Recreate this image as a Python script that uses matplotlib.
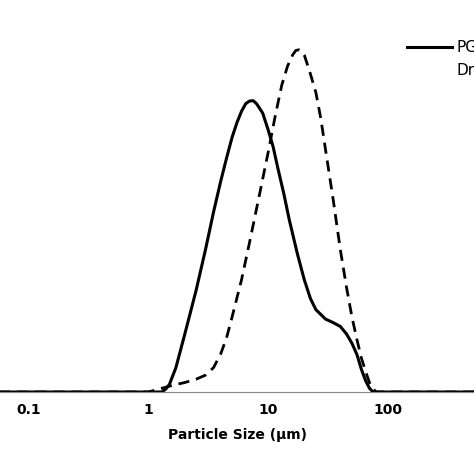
import matplotlib
matplotlib.use("Agg")
import matplotlib.pyplot as plt

size_solid = [0.05, 1.3, 1.4, 1.5, 1.7, 2, 2.5, 3, 3.5, 4, 4.5, 5, 5.5, 6, 6.5, 7, 7.5, 8, 9, 10, 11, 12, 13.5, 15, 17.5, 20, 22.5, 25, 30, 35, 40, 45, 50, 55, 60, 65, 70, 75, 600]
pgss = [0, 0, 0.08, 0.2, 0.65, 1.5, 2.7, 3.8, 4.8, 5.6, 6.25, 6.8, 7.2, 7.5, 7.7, 7.77, 7.78, 7.7, 7.45, 7.0, 6.55, 6.0, 5.3, 4.6, 3.7, 3.0, 2.5, 2.2, 1.95, 1.85, 1.75, 1.55, 1.3, 1.0, 0.6, 0.3, 0.1, 0, 0]
size_dash = [0.05, 1, 1.3, 1.6, 2, 2.5, 3, 3.5, 4, 4.5, 5, 6, 7, 8.5, 10, 11.5, 13, 14.5, 16, 17, 18, 19, 20, 22, 25, 27.5, 30, 35, 40, 45, 50, 55, 60, 65, 70, 75, 80, 600]
drug = [0, 0, 0.1, 0.18, 0.25, 0.34, 0.45, 0.65, 1.0, 1.45, 2.0, 3.0, 4.0, 5.3, 6.4, 7.4, 8.2, 8.7, 9.0, 9.12, 9.14, 9.1, 9.0, 8.6, 8.0, 7.3, 6.5, 5.1, 3.8, 2.8, 2.0, 1.4, 0.9, 0.55, 0.25, 0.08, 0, 0]

fig = plt.figure(figsize=(4.74, 4.74), dpi=100)
ax = fig.add_axes([0, 0.173, 1, 0.79])
ax.plot(size_solid, pgss, color="black", lw=2.2, solid_joinstyle="round")
ax.plot(size_dash, drug, color="black", lw=2.0, ls=(0, (4, 2.5)))
ax.set_xscale("log")
ax.set_xlim(0.058, 521)
ax.set_ylim(0, 10)
for s in ["left", "right", "top"]:
    ax.spines[s].set_visible(False)
ax.spines["bottom"].set_color("#888888")
ax.set_yticks([])
ax.set_xticks([0.1, 1, 10, 100])
ax.set_xticklabels(["0.1", "1", "10", "100"])
ax.minorticks_off()
ax.tick_params(axis="x", length=0, labelsize=10, pad=8)
for t in ax.get_xticklabels():
    t.set_fontweight("bold")
ax.set_xlabel("Particle Size (µm)", fontsize=10, fontweight="bold", labelpad=8)
fig.add_artist(plt.Line2D([407/474, 452/474], [1-47/474, 1-47/474], color="black", lw=2.2))
fig.text(456/474, 1-47/474, "PGSS", fontsize=11, va="center")
fig.text(456/474, 1-70/474, "Drug", fontsize=11, va="center")
fig.savefig("out.png", dpi=100)
